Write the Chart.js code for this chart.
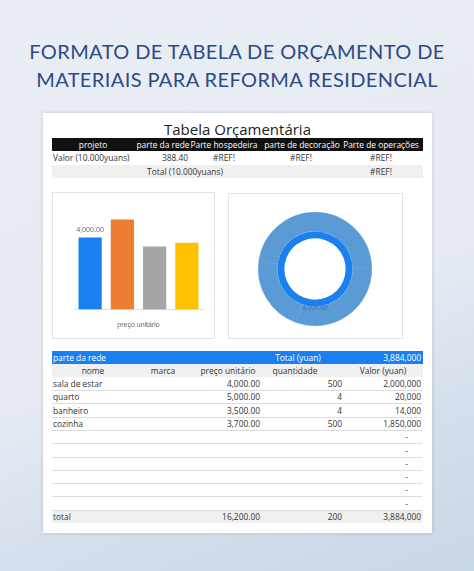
<!DOCTYPE html>
<html><head><meta charset="utf-8">
<script src="https://cdn.jsdelivr.net/npm/chart.js@4"></script>
<style>
body{margin:0;width:474px;height:571px;overflow:hidden;font-family:"Open Sans",sans-serif;
 background:linear-gradient(160deg,#e9eef4 0%,#e6ebf2 55%,#d6e0ec 75%,#c9d6e6 100%);position:relative}
.h{position:absolute;left:0;width:474px;text-align:center;color:#2a4a86;font-family:Lato,sans-serif;font-size:20px;letter-spacing:0.4px}
.sheet{position:absolute;left:43px;top:113px;width:389px;height:420px;background:#fff;box-shadow:0 0 4px rgba(0,0,0,.15)}
.a{position:absolute;font-size:8.4px;color:#333;white-space:nowrap;line-height:13px}
.box{position:absolute;border:1px solid #e3e3e3;background:#fff}
.row{position:absolute;left:9px;width:370px;height:13px;border-bottom:1px solid #ddd}
</style></head><body>
<div class="h" style="top:39px">FORMATO DE TABELA DE ORÇAMENTO DE</div>
<div class="h" style="top:67px">MATERIAIS PARA REFORMA RESIDENCIAL</div>
<div class="sheet" id="sheet">
 <div class="a" style="left:0;width:389px;text-align:center;top:7px;font-size:15px;line-height:18px;color:#222">Tabela Orçamentária</div>
 <div style="position:absolute;left:9px;top:25px;width:371px;height:13px;background:#111"></div>
 <div style="position:absolute;left:9px;top:52px;width:371px;height:13px;background:#f0f0f0"></div>
 <div class="box" style="left:9px;top:79px;width:161px;height:145px"></div>
 <div class="box" style="left:185px;top:80px;width:173px;height:144px"></div>
 <div style="position:absolute;left:11px;top:82px;width:159px;height:140px"><canvas id="bar"></canvas></div>
 <div style="position:absolute;left:186px;top:81px;width:172px;height:142px"><canvas id="pie"></canvas></div>
 <div style="position:absolute;left:9px;top:238px;width:371px;height:13px;background:#1a7ff0"></div>
 <div style="position:absolute;left:9px;top:251px;width:371px;height:13px;background:#f0f0f0"></div>
 <div style="position:absolute;left:9px;top:397px;width:371px;height:13px;background:#f0f0f0"></div>
</div>
<script>
const headerTop = ['projeto','parte da rede','Parte hospedeira','parte de decoração','Parte de operações'];
const valueRow = ['Valor (10.000yuans)','388.40','#REF!','#REF!','#REF!'];
const items = ['sala de estar','quarto','banheiro','cozinha'];
const prices = [4000, 5000, 3500, 3700];
const qty = [500, 4, 4, 500];
const values = [2000000, 20000, 14000, 1850000];
const barColors = ['#1a7ff0','#ed7d31','#a5a5a5','#ffc000'];

const sheet = document.getElementById('sheet');
function txt(s, x, y, opt) {
  opt = opt || {};
  const d = document.createElement('div');
  d.className = 'a';
  d.textContent = s;
  d.style.top = y + 'px';
  if (opt.right != null) { d.style.left = (opt.right - 200) + 'px'; d.style.width = '200px'; d.style.textAlign = 'right'; }
  else if (opt.center != null) { d.style.left = (opt.center - 100) + 'px'; d.style.width = '200px'; d.style.textAlign = 'center'; }
  else d.style.left = x + 'px';
  if (opt.color) d.style.color = opt.color;
  sheet.appendChild(d);
}
const fmt = (v, d) => v.toLocaleString('en-US', {minimumFractionDigits: d, maximumFractionDigits: d});

// top table
const topCenters = [50, 120, 181, 259, 338];
headerTop.forEach((h, i) => txt(h, 0, 25, {center: topCenters[i], color: '#fff'}));
valueRow.forEach((v, i) => i === 0 ? txt(v, 10, 38) : txt(v, 0, 38, {center: [0,132,181,258,338][i]}));
txt('Total (10.000yuans)', 0, 52, {center: 142});
txt('#REF!', 0, 52, {center: 338});

// lower table
txt('parte da rede', 10, 238, {color: '#fff'});
txt('Total (yuan)', 0, 238, {center: 255, color: '#fff'});
txt(fmt(values.reduce((a, b) => a + b, 0), 0), 0, 238, {right: 378, color: '#fff'});
['nome','marca','preço unitário','quantidade','Valor (yuan)'].forEach((h, i) =>
  txt(h, 0, 251, {center: [50,120,185,252,340][i]}));
for (let r = 0; r < 10; r++) {
  const y = 264 + r * 13.3;
  const line = document.createElement('div');
  line.className = 'row'; line.style.top = y + 'px';
  sheet.appendChild(line);
  if (r < items.length) {
    txt(items[r], 10, y);
    txt(fmt(prices[r], 2), 0, y, {right: 217});
    txt(String(qty[r]), 0, y, {right: 299});
    txt(fmt(values[r], 0), 0, y, {right: 378});
  } else txt('-', 0, y, {right: 365});
}
txt('total', 10, 397);
txt(fmt(prices.reduce((a, b) => a + b, 0), 2), 0, 397, {right: 217});
txt('200', 0, 397, {right: 299});
txt(fmt(values.reduce((a, b) => a + b, 0), 0), 0, 397, {right: 378});

// bar chart
new Chart(document.getElementById('bar'), {
  type: 'bar',
  data: { labels: items, datasets: [{ data: prices, backgroundColor: barColors, categoryPercentage: 0.9, barPercentage: 0.8 }] },
  options: {
    responsive: true, maintainAspectRatio: false, animation: false,
    layout: { padding: { top: 10, left: 20, right: 10, bottom: 0 } },
    plugins: { legend: { display: false }, tooltip: { enabled: false },
      title: { display: true, position: 'bottom', text: 'preço unitário', color: '#666', font: { size: 7, weight: 'normal' }, padding: { top: 3, bottom: 6 } } },
    scales: {
      x: { display: true, ticks: { display: false }, grid: { display: false }, border: { color: '#ddd' } },
      y: { display: false, min: 0, max: 5800 }
    }
  },
  plugins: [{
    id: 'lbl',
    afterDatasetsDraw(c) {
      const m = c.getDatasetMeta(0).data[0];
      const ctx = c.ctx;
      ctx.save(); ctx.font = '7px "Open Sans"'; ctx.fillStyle = '#666'; ctx.textAlign = 'center';
      ctx.fillText(fmt(prices[0], 2), m.x, m.y - 5); ctx.restore();
    }
  }]
});

// doughnut
new Chart(document.getElementById('pie'), {
  type: 'doughnut',
  data: { labels: items, datasets: [
    { data: prices, backgroundColor: '#5b9bd5', borderColor: '#5f9ed7', borderWidth: 0.5, weight: 2.7 },
    { data: [prices[0]], backgroundColor: '#1a7ff0', borderWidth: 0, weight: 1 }
  ] },
  options: {
    responsive: true, maintainAspectRatio: false, animation: false, cutout: '54%',
    layout: { padding: { top: 18, bottom: 10 } },
    plugins: { legend: { display: false }, tooltip: { enabled: false } }
  },
  plugins: [{
    id: 'lbl2',
    afterDatasetsDraw(c) {
      const a = c.chartArea, ctx = c.ctx;
      ctx.save(); ctx.font = '6.5px "Open Sans"'; ctx.fillStyle = '#3a6fb0'; ctx.textAlign = 'center';
      ctx.fillText(fmt(prices[0], 2), (a.left + a.right) / 2, (a.top + a.bottom) / 2 + 41); ctx.restore();
    }
  }]
});
</script>
</body></html>
